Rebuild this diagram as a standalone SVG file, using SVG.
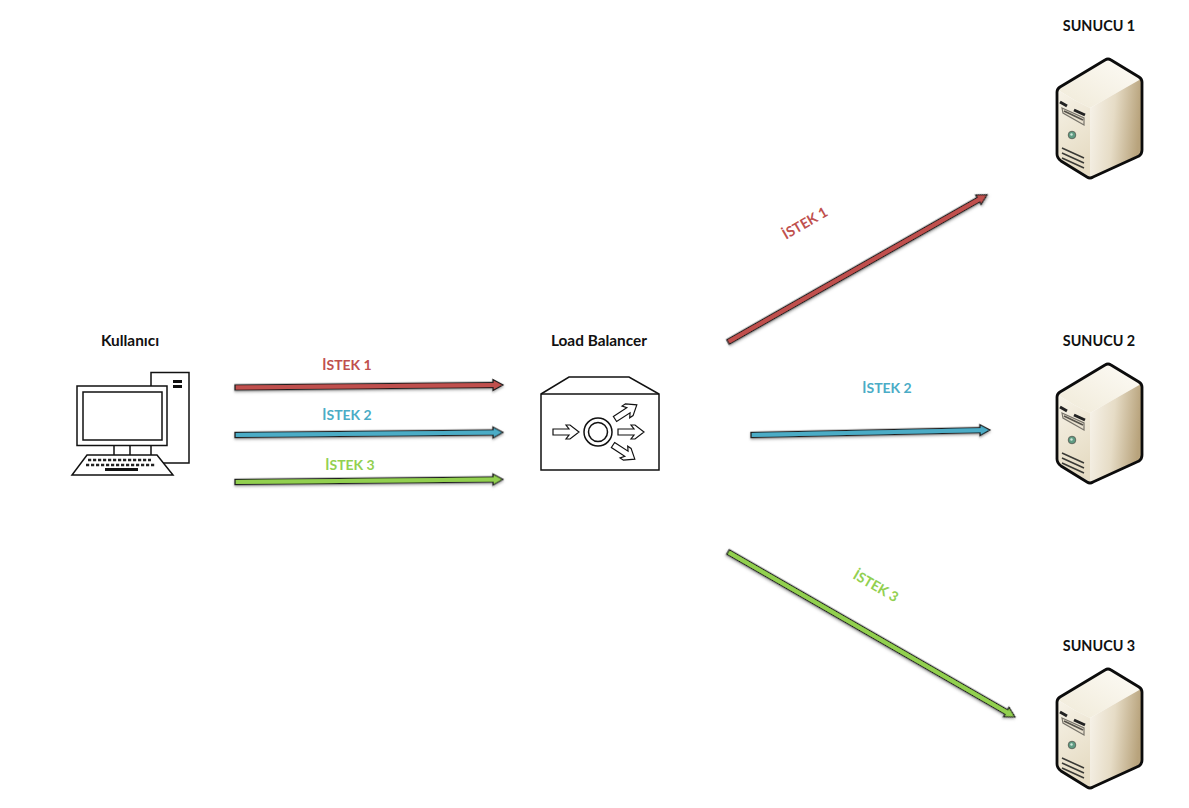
<svg xmlns="http://www.w3.org/2000/svg" width="1189" height="808" viewBox="0 0 1189 808">
<style>
text{font-family:Lato,"Liberation Sans",sans-serif;font-weight:700;font-size:14px;text-anchor:middle}
.n{fill:#111;font-size:15.4px}.s{fill:#111;font-size:14.4px}.r{fill:#c0504d}.b{fill:#4bacc6}.g{fill:#92d050}
.a{stroke:#1d1d1d;stroke-width:1.3;stroke-linejoin:miter;filter:url(#sh)}
.o{fill:none;stroke:#111;stroke-width:1.5}
.w{fill:#fff;stroke:#111;stroke-width:1.5}
.m{fill:#fff;stroke:#111;stroke-width:1.2}
.v{fill:none;stroke:#3a3a36;stroke-width:1.6}
</style>
<defs>
<filter id="sh" x="-5%" y="-60%" width="110%" height="220%"><feDropShadow dx="0" dy="1.5" stdDeviation="1" flood-color="#777" flood-opacity=".6"/></filter>
<linearGradient id="fr" x1="0" y1="0" x2="0.3" y2="1"><stop offset="0" stop-color="#f7f3e8"/><stop offset="1" stop-color="#e6dcc4"/></linearGradient>
<linearGradient id="si" x1="0" y1="0" x2="1" y2="0.15"><stop offset="0" stop-color="#f7f3ea"/><stop offset=".5" stop-color="#e6dcc6"/><stop offset="1" stop-color="#b8a37c"/></linearGradient>
<linearGradient id="tp" x1="0" y1="1" x2="1" y2="0"><stop offset="0" stop-color="#f0ead8"/><stop offset="1" stop-color="#fdfbf6"/></linearGradient>
<g id="srv">
<path d="M1058,90 L1105,61 Q1108,59 1111,61 L1141,79 L1090,108 Q1073,100 1058,90Z" fill="url(#tp)"/>
<path d="M1090,108 L1141,79 Q1142,80 1142,82 L1142,150 Q1142,153 1139,155 L1092,177 Q1090,178 1090,176Z" fill="url(#si)"/>
<path d="M1058,90 Q1073,100 1090,108 L1090,177 L1061,160 Q1057,158 1057,154 L1057,92Z" fill="url(#fr)"/>
<path d="M1057,92 Q1057,89 1060,87 L1105,60 Q1108,58 1111,60 L1139,77 Q1142,79 1142,82 L1142,150 Q1142,154 1139,156 L1093,177 Q1090,179 1087,177 L1061,161 Q1057,158 1057,154Z" fill="none" stroke="#0c0c0c" stroke-width="2.8" stroke-linejoin="round"/>
<path d="M1060,102 L1067,106 M1074,110 L1085,115" fill="none" stroke="#222" stroke-width="3"/>
<path d="M1062,108 L1063,113 L1084,125 L1084,118Z" fill="#e9e1cf" stroke="#77736a" stroke-width="1.2"/>
<path d="M1064,111 L1083,120" stroke="#55524a" stroke-width="1.8" fill="none"/>
<circle cx="1072" cy="135" r="3.8" fill="#5f9c83" stroke="#56574f" stroke-width=".8"/>
<circle cx="1071.5" cy="134.5" r="1.2" fill="#cfe6da"/>
<path class="v" d="M1062,148 L1084,158 M1062,153 L1084,163 M1062,158 L1084,168"/>
</g>
<path id="sa" d="M0,-3 H16 L13,-7 H17 L26,0 L17,7 H13 L16,3 H0Z" class="m"/>
</defs>
<rect width="1189" height="808" fill="#fff"/>
<g id="connectors">
<g class="r">
<polygon class="a" transform="translate(235,387.5) rotate(-0.55)" points="0,-2.6 258,-2.6 258,-5.5 268,0 258,5.5 258,2.6 0,2.6"/>
<polygon class="a" transform="translate(728,342) rotate(-29.6)" points="0,-2.6 288,-2.6 288,-5.5 298,0 288,5.5 288,2.6 0,2.6"/>
</g>
<g class="b">
<polygon class="a" transform="translate(235,435) rotate(-0.55)" points="0,-2.6 258,-2.6 258,-5.5 268,0 258,5.5 258,2.6 0,2.6"/>
<polygon class="a" transform="translate(751,435) rotate(-1.2)" points="0,-2.6 229,-2.6 229,-5.5 239,0 229,5.5 229,2.6 0,2.6"/>
</g>
<g class="g">
<polygon class="a" transform="translate(235,482) rotate(-0.55)" points="0,-2.6 258,-2.6 258,-5.5 268,0 258,5.5 258,2.6 0,2.6"/>
<polygon class="a" transform="translate(728,552) rotate(29.9)" points="0,-2.6 321,-2.6 321,-5.5 331,0 321,5.5 321,2.6 0,2.6"/>
</g>
</g>
<g id="labels">
<text class="r" x="347" y="370">İSTEK 1</text>
<text class="b" x="347" y="420">İSTEK 2</text>
<text class="g" x="350" y="470">İSTEK 3</text>
<text class="r" transform="translate(805,223) rotate(-30)" y="5">İSTEK 1</text>
<text class="b" x="887" y="393">İSTEK 2</text>
<text class="g" transform="translate(876,586) rotate(30)" y="5">İSTEK 3</text>
</g>
<g id="kullanici">
<text class="n" x="130" y="346">Kullanıcı</text>
<path class="o" d="M151,386 V372.5 H189 V463 H163"/>
<path d="M173,380 H182 V383 H173Z M173,385 H182 V388 H173Z" fill="#111"/>
<rect class="o" x="77" y="386" width="90" height="59.5"/>
<rect class="o" x="83" y="392" width="79" height="48"/>
<path class="o" d="M114,446 V455 M130,446 V455 M151,446 V455"/>
<path class="w" d="M87,455 H157 L173,475 H72Z"/>
<path d="M88,460 H151 M86,465 H156" fill="none" stroke="#222" stroke-width="2.4" stroke-dasharray="3.2 1.8"/>
<rect x="105" y="468" width="33" height="3" fill="#111"/>
</g>
<g id="load-balancer">
<text class="n" x="599" y="346">Load Balancer</text>
<path class="w" d="M541,394 L569,377 H629 L659,394 V470 H541Z"/>
<path class="o" d="M541,394 H659"/>
<circle class="o" cx="598" cy="432" r="14"/>
<circle class="o" cx="598" cy="432" r="9.5"/>
<use href="#sa" transform="translate(553,432)"/>
<use href="#sa" transform="translate(618,432)"/>
<use href="#sa" transform="translate(615,419) rotate(-33)"/>
<use href="#sa" transform="translate(613,445) rotate(33)"/>
</g>
<g id="sunucu-1">
<text class="s" x="1099" y="31">SUNUCU 1</text>
<use href="#srv"/>
</g>
<g id="sunucu-2">
<text class="s" x="1099" y="346">SUNUCU 2</text>
<use href="#srv" y="305"/>
</g>
<g id="sunucu-3">
<text class="s" x="1099" y="651">SUNUCU 3</text>
<use href="#srv" y="610"/>
</g>
</svg>
